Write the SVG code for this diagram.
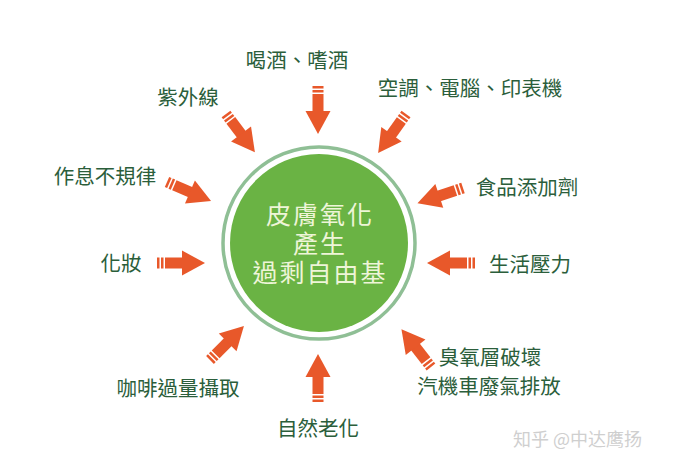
<svg xmlns="http://www.w3.org/2000/svg" xmlns:xlink="http://www.w3.org/1999/xlink" width="677" height="466" viewBox="0 0 677 466">
<style>
.lbl{font-family:"Noto Sans CJK TC","Noto Sans CJK SC",sans-serif;font-size:20.5px;fill:#2b5e3b;text-anchor:middle}
.ctr{font-family:"Noto Sans CJK TC","Noto Sans CJK SC",sans-serif;font-size:25px;letter-spacing:2px;fill:#eef5d8;text-anchor:middle}
.wm{font-family:"Noto Sans CJK SC","Noto Sans CJK TC",sans-serif;font-size:18px;fill:#cfcfcf}
.ar{fill:#e8582a}
</style>
<defs>
<g id="arrow" class="ar">
<rect x="0" y="-5.5" width="2.5" height="11"/>
<rect x="4" y="-5.5" width="2.5" height="11"/>
<rect x="8" y="-5.5" width="19" height="11"/>
<polygon points="25,-12.5 48,0 25,12.5"/>
</g>
</defs>
<rect width="677" height="466" fill="#ffffff"/>
<g id="center">
<circle cx="319" cy="243" r="96" fill="none" stroke="#8fbf95" stroke-width="3.5"/>
<circle cx="319" cy="243" r="89" fill="#6ab344"/>
<text class="ctr" x="320" y="224">皮膚氧化</text>
<text class="ctr" x="320" y="253">產生</text>
<text class="ctr" x="320" y="282">過剩自由基</text>
</g>
<g id="connectors">
<use xlink:href="#arrow" transform="translate(318,86) rotate(90)"/>
<use xlink:href="#arrow" transform="translate(226,114) rotate(53)"/>
<use xlink:href="#arrow" transform="translate(406,114) rotate(125.5)"/>
<use xlink:href="#arrow" transform="translate(167,182) rotate(23.4)"/>
<use xlink:href="#arrow" transform="translate(463,188) rotate(161.6)"/>
<use xlink:href="#arrow" transform="translate(157,263) rotate(0)"/>
<use xlink:href="#arrow" transform="translate(475,263) rotate(180)"/>
<use xlink:href="#arrow" transform="translate(210,360) rotate(-45)"/>
<use xlink:href="#arrow" transform="translate(318,402) rotate(-90)"/>
<use xlink:href="#arrow" transform="translate(431,367) rotate(-128)"/>
</g>
<g id="n1"><text class="lbl" x="297" y="68">喝酒、嗜酒</text></g>
<g id="n2"><text class="lbl" x="188" y="105">紫外線</text></g>
<g id="n3"><text class="lbl" x="470" y="96">空調、電腦、印表機</text></g>
<g id="n4"><text class="lbl" x="105" y="184">作息不規律</text></g>
<g id="n5"><text class="lbl" x="527" y="195">食品添加劑</text></g>
<g id="n6"><text class="lbl" x="121" y="271">化妝</text></g>
<g id="n7"><text class="lbl" x="530" y="272">生活壓力</text></g>
<g id="n8"><text class="lbl" x="490" y="365">臭氧層破壞</text><text class="lbl" x="489" y="394">汽機車廢氣排放</text></g>
<g id="n9"><text class="lbl" x="178" y="396">咖啡過量攝取</text></g>
<g id="n10"><text class="lbl" x="318" y="436">自然老化</text></g>
<g id="wm"><text class="wm" x="513" y="446">知乎 @中达鹰扬</text></g>
</svg>
